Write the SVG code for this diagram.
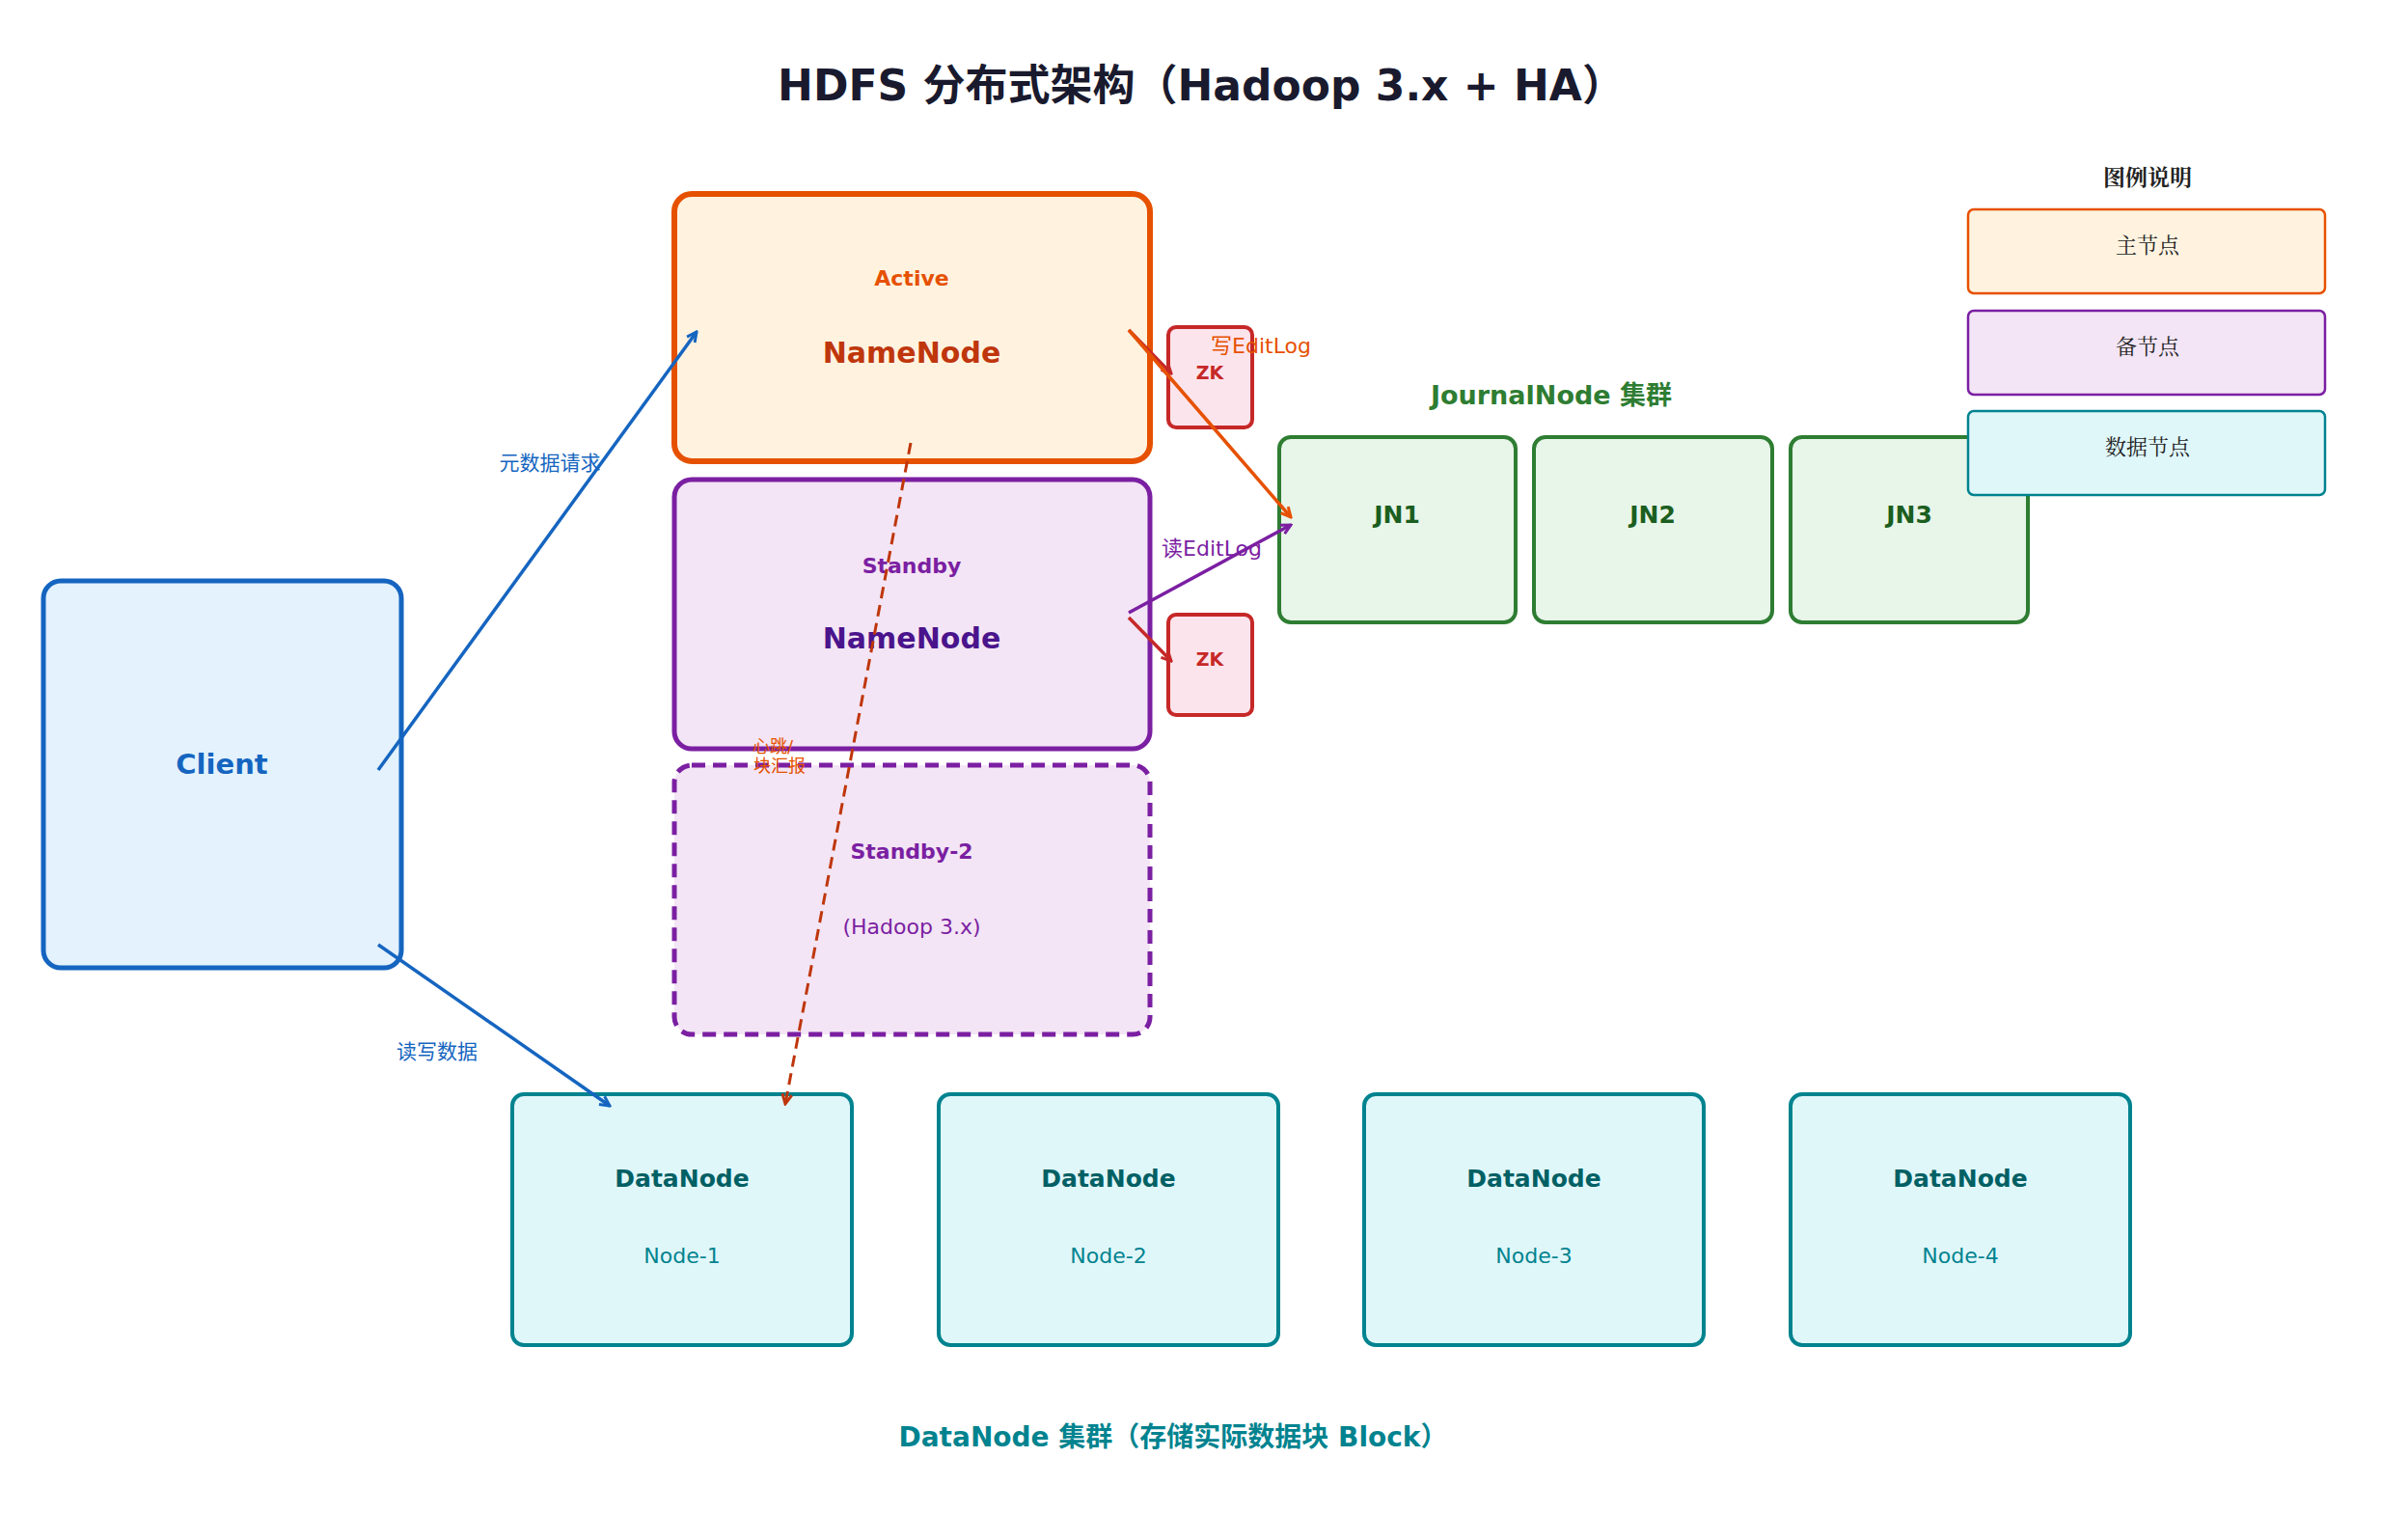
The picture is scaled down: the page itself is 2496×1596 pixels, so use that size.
<svg xmlns="http://www.w3.org/2000/svg" width="2496" height="1596" viewBox="0 0 2496 1596">
<style>
text{font-family:"DejaVu Sans","Noto Sans CJK SC",sans-serif;text-anchor:middle}
.b{font-weight:bold}
.leg{font-family:"Noto Serif CJK SC","Liberation Serif","Noto Sans CJK SC",serif;font-size:22px;fill:#222}
</style>
<defs>
<marker id="mb" markerWidth="10" markerHeight="10" refX="8" refY="5" orient="auto" markerUnits="userSpaceOnUse" viewBox="0 0 10 10"><path d="M1,1 L8,5 L1,9" fill="none" stroke="#1565c0" stroke-width="2"/></marker>
<marker id="mo" markerWidth="14" markerHeight="14" refX="12" refY="7" orient="auto" markerUnits="userSpaceOnUse"><path d="M2,2 L12,7 L2,12" fill="none" stroke="#e65100" stroke-width="3"/></marker>
<marker id="mr" markerWidth="14" markerHeight="14" refX="12" refY="7" orient="auto" markerUnits="userSpaceOnUse"><path d="M2,2 L12,7 L2,12" fill="none" stroke="#c62828" stroke-width="3"/></marker>
<marker id="mp" markerWidth="14" markerHeight="14" refX="12" refY="7" orient="auto" markerUnits="userSpaceOnUse"><path d="M2,2 L12,7 L2,12" fill="none" stroke="#7b1fa2" stroke-width="3"/></marker>
<marker id="md" markerWidth="14" markerHeight="14" refX="12" refY="7" orient="auto" markerUnits="userSpaceOnUse"><path d="M2,2 L12,7 L2,12" fill="none" stroke="#bf360c" stroke-width="3"/></marker>
<marker id="mbb" markerWidth="14" markerHeight="14" refX="12" refY="7" orient="auto" markerUnits="userSpaceOnUse"><path d="M2,2 L12,7 L2,12" fill="none" stroke="#1565c0" stroke-width="3"/></marker>
</defs>
<rect width="2496" height="1596" fill="#fff"/>
<text x="1245" y="104" class="b" font-size="44" fill="#1a1a2e">HDFS 分布式架构（Hadoop 3.x + HA）</text>

<g id="client"><rect x="45" y="602" width="371" height="401" rx="18" fill="#e3f2fd" stroke="#1565c0" stroke-width="5"/><text x="230" y="802" class="b" font-size="29" fill="#1565c0">Client</text></g>
<g id="active"><rect x="699" y="201" width="493" height="277" rx="18" fill="#fff3e0" stroke="#e65100" stroke-width="6"/><text x="945" y="296" class="b" font-size="22" fill="#e65100">Active</text><text x="945" y="376" class="b" font-size="30" fill="#bf360c">NameNode</text></g>
<g id="standby"><rect x="699" y="497" width="493" height="279" rx="18" fill="#f3e5f5" stroke="#7b1fa2" stroke-width="5"/><text x="945" y="594" class="b" font-size="22" fill="#7b1fa2">Standby</text><text x="945" y="672" class="b" font-size="30" fill="#4a148c">NameNode</text></g>
<g id="standby2"><rect x="699" y="793" width="493" height="279" rx="18" fill="#f3e5f5" stroke="#7b1fa2" stroke-width="5" stroke-dasharray="14,8"/><text x="945" y="890" class="b" font-size="22" fill="#7b1fa2">Standby-2</text><text x="945" y="968" font-size="22" fill="#7b1fa2">(Hadoop 3.x)</text></g>
<g id="zk1"><rect x="1211" y="339" width="87" height="104" rx="8" fill="#fce4ec" stroke="#c62828" stroke-width="4"/><text x="1254" y="393" class="b" font-size="19" fill="#c62828">ZK</text></g>
<g id="zk2"><rect x="1211" y="637" width="87" height="104" rx="8" fill="#fce4ec" stroke="#c62828" stroke-width="4"/><text x="1254" y="690" class="b" font-size="19" fill="#c62828">ZK</text></g>
<text x="1608" y="419" class="b" font-size="27" fill="#2e7d32">JournalNode 集群</text>
<g id="jn1"><rect x="1326" y="453" width="245" height="192" rx="12" fill="#e8f5e9" stroke="#2e7d32" stroke-width="4"/><text x="1448" y="542" class="b" font-size="25" fill="#1b5e20">JN1</text></g>
<g id="jn2"><rect x="1590" y="453" width="247" height="192" rx="12" fill="#e8f5e9" stroke="#2e7d32" stroke-width="4"/><text x="1713" y="542" class="b" font-size="25" fill="#1b5e20">JN2</text></g>
<g id="jn3"><rect x="1856" y="453" width="246" height="192" rx="12" fill="#e8f5e9" stroke="#2e7d32" stroke-width="4"/><text x="1979" y="542" class="b" font-size="25" fill="#1b5e20">JN3</text></g>
<g id="dn1"><rect x="531" y="1134" width="352" height="260" rx="12" fill="#e0f7fa" stroke="#00838f" stroke-width="4"/><text x="707" y="1230" class="b" font-size="25" fill="#006064">DataNode</text><text x="707" y="1309" font-size="22" fill="#00838f">Node-1</text></g>
<g id="dn2"><rect x="973" y="1134" width="352" height="260" rx="12" fill="#e0f7fa" stroke="#00838f" stroke-width="4"/><text x="1149" y="1230" class="b" font-size="25" fill="#006064">DataNode</text><text x="1149" y="1309" font-size="22" fill="#00838f">Node-2</text></g>
<g id="dn3"><rect x="1414" y="1134" width="352" height="260" rx="12" fill="#e0f7fa" stroke="#00838f" stroke-width="4"/><text x="1590" y="1230" class="b" font-size="25" fill="#006064">DataNode</text><text x="1590" y="1309" font-size="22" fill="#00838f">Node-3</text></g>
<g id="dn4"><rect x="1856" y="1134" width="352" height="260" rx="12" fill="#e0f7fa" stroke="#00838f" stroke-width="4"/><text x="2032" y="1230" class="b" font-size="25" fill="#006064">DataNode</text><text x="2032" y="1309" font-size="22" fill="#00838f">Node-4</text></g>
<text x="1216" y="1499" class="b" font-size="28" fill="#00838f">DataNode 集群（存储实际数据块 Block）</text>

<g id="legend">
<text x="2226" y="192" class="leg" font-weight="bold" fill="#333" style="font-size:23px">图例说明</text>
<rect x="2040" y="217" width="370" height="87" rx="6" fill="#fff3e0" stroke="#e65100" stroke-width="2.5"/><text x="2226" y="262" class="leg">主节点</text>
<rect x="2040" y="322" width="370" height="87" rx="6" fill="#f3e5f5" stroke="#7b1fa2" stroke-width="2.5"/><text x="2226" y="367" class="leg">备节点</text>
<rect x="2040" y="426" width="370" height="87" rx="6" fill="#e0f7fa" stroke="#00838f" stroke-width="2.5"/><text x="2226" y="471" class="leg">数据节点</text>
</g>

<g id="connectors" fill="none" stroke-width="3.5">
<line x1="392" y1="798" x2="722" y2="344" stroke="#1565c0" marker-end="url(#mbb)"/>
<line x1="392" y1="979" x2="632" y2="1146" stroke="#1565c0" marker-end="url(#mbb)"/>
<line x1="1170" y1="342" x2="1214" y2="387" stroke="#c62828" marker-end="url(#mr)"/>
<line x1="1170" y1="342" x2="1338" y2="536" stroke="#e65100" marker-end="url(#mo)"/>
<line x1="1170" y1="635" x2="1338" y2="544" stroke="#7b1fa2" marker-end="url(#mp)"/>
<line x1="1170" y1="640" x2="1214" y2="685" stroke="#c62828" marker-end="url(#mr)"/>
<line x1="944" y1="459" x2="814" y2="1144" stroke="#bf360c" stroke-width="3" stroke-dasharray="12,7" marker-end="url(#md)"/>
</g>
<text x="570" y="487" font-size="21" fill="#1565c0">元数据请求</text>
<text x="453" y="1097" font-size="21" fill="#1565c0">读写数据</text>
<text x="1307" y="366" font-size="22" fill="#e65100">写EditLog</text>
<text x="1256" y="576" font-size="22" fill="#7b1fa2">读EditLog</text>
<text x="801" y="780" font-size="18" fill="#e65100">心跳/</text>
<text x="808" y="800" font-size="18" fill="#e65100">块汇报</text>
</svg>
